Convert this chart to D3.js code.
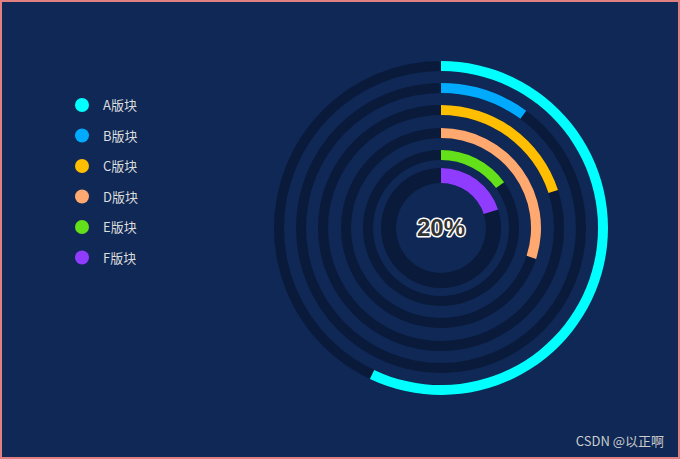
<!DOCTYPE html><html><head><meta charset="utf-8"><script src="https://cdn.jsdelivr.net/npm/d3@7"></script>
<style>body{margin:0;background:#fff}svg{display:block}</style></head><body><svg width="680" height="459"></svg><script>
const names=["A版块","B版块","C版块","D版块","E版块","F版块"];
const values=[57,10,20,30,15,20];
const colors=["#00ffff","#00aaff","#ffbf00","#ffa870","#64e01b","#8f3cff"];
const outerR=[167,145,123,100,78,60];
const widths=[10,10,10,10,10,15];
const svg=d3.select("svg");
svg.append("rect").attr("x",1).attr("y",1).attr("width",678).attr("height",457).attr("fill","#0f2855").attr("stroke","#e08080").attr("stroke-width",2);
const g=svg.append("g").attr("transform","translate(441,228)");
const ang=d3.scaleLinear().domain([0,100]).range([0,2*Math.PI]);
names.forEach((n,i)=>{
 const arc=d3.arc().innerRadius(outerR[i]-widths[i]).outerRadius(outerR[i]).startAngle(0);
 g.append("path").attr("d",arc({endAngle:2*Math.PI})).attr("fill","#0a1a3a");
 g.append("path").attr("d",arc({endAngle:ang(values[i])})).attr("fill",colors[i]);
});
g.append("text").attr("text-anchor","middle").attr("y",8).attr("font-family","Liberation Sans, Arial").attr("font-weight","bold").attr("font-size",24).attr("fill","#333").attr("stroke","#fff").attr("stroke-width",3).attr("stroke-linejoin","round").attr("paint-order","stroke").text("20%");
const lg=svg.append("g");
names.forEach((n,i)=>{
 const y=105+i*30.5;
 lg.append("circle").attr("cx",82).attr("cy",y).attr("r",7).attr("fill",colors[i]);
 lg.append("text").attr("x",103).attr("y",y+5).attr("font-size",13).attr("font-family","Noto Sans CJK SC, sans-serif").attr("fill","#ddd").text(n);
});
svg.append("text").attr("x",664).attr("y",446).attr("text-anchor","end").attr("font-size",13).attr("font-family","Noto Sans CJK SC, sans-serif").attr("fill","#ccc").text("CSDN @以正啊");
</script></body></html>
